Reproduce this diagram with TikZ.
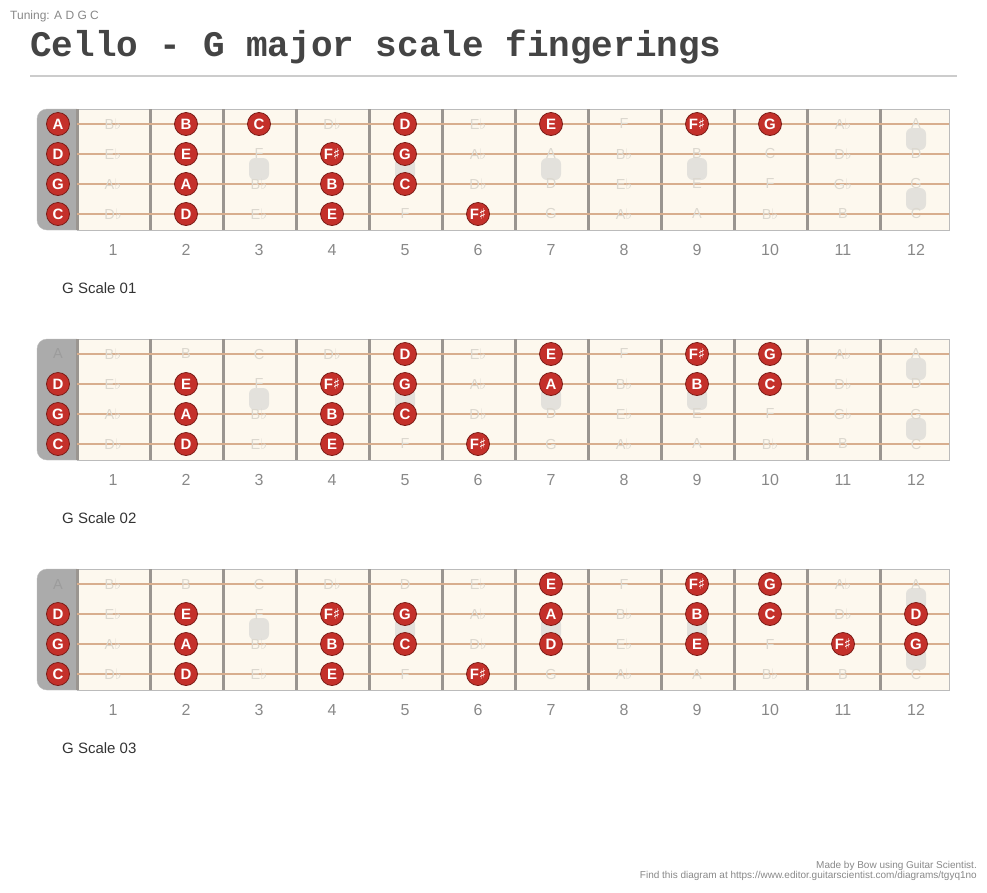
\documentclass[tikz,border=0pt]{standalone}
\usepackage{fontspec}
\setmainfont{Liberation Sans}
\newfontfamily\titlefont{Liberation Mono}
\newfontfamily\accfont{DejaVu Sans}
\usetikzlibrary{positioning}

\definecolor{boardbg}{HTML}{FDF8EE}
\definecolor{nutgray}{HTML}{ABABAB}
\definecolor{edgegray}{HTML}{BBBBBB}
\definecolor{fretgray}{HTML}{9A9590}
\definecolor{stringtan}{HTML}{D8AE8E}
\definecolor{inlaygray}{HTML}{E3E1DC}
\definecolor{fadedtext}{HTML}{DCD8CF}
\definecolor{opentext}{HTML}{9C9C9C}
\definecolor{notered}{HTML}{C4302A}
\definecolor{notedark}{HTML}{7A1B16}
\definecolor{labelgray}{HTML}{888888}
\definecolor{titlegray}{HTML}{444444}
\definecolor{rulegray}{HTML}{CCCCCC}

\newcommand{\fl}{{\accfont\char"266D}}
\newcommand{\sh}{{\accfont\char"266F}}
\newcommand{\notename}[1]{\ifcase#1 C\or D\fl\or D\or E\fl\or E\or F\or G\fl\or G\or A\fl\or A\or B\fl\or B\fi}

\tikzset{
    faded/.style={text=fadedtext, inner sep=0pt, font=\fontsize{14.5}{14.5}\selectfont},
    note/.style={circle, fill=notered, draw=notedark, line width=0.8pt, minimum size=23pt, inner sep=0pt, text=white, font=\fontsize{15}{15}\selectfont\bfseries},
    fretnum/.style={text=labelgray, font=\fontsize{16}{16}\selectfont},
    inlay/.style={fill=inlaygray, rounded corners=6pt},
}
\tikzset{
    board/.pic={
        \fill[nutgray, rounded corners=10pt] (0,0) rectangle (60,121);
        \fill[boardbg] (40,0) rectangle (912,121);
        \draw[edgegray] (40,0) -- (912,0) -- (912,121) -- (40,121);
        \draw[edgegray, rounded corners=10pt] (40,0) -- (0,0) -- (0,121) -- (40,121);
        % inlays
        \foreach \f in {3,5,7,9} \fill[inlay] (-7+73*\f,49) rectangle (13+73*\f,71);
        \fill[inlay] (869,19) rectangle (889,41);
        \fill[inlay] (869,79) rectangle (889,101);
        % nut, frets, strings
        \draw[fretgray, line width=3pt] (40,0) -- (40,121);
        \foreach \k in {1,...,11} \draw[fretgray, line width=3pt] (40+73*\k,0) -- (40+73*\k,121);
        \foreach \s in {1,...,4} \draw[stringtan, line width=2pt] (40,-15+30*\s) -- (912,-15+30*\s);
        % note names
        \foreach \s/\o in {1/9,2/2,3/7,4/0} {
            \node[faded, text=opentext] (-n\s-0) at (21,-15+30*\s) {\notename{\o}};
            \foreach \f in {1,...,12} {
                \pgfmathtruncatemacro\idx{mod(\o+\f,12)}
                \node[faded] (-n\s-\f) at (3+73*\f,-15+30*\s) {\notename{\idx}};
            }
        }
        \foreach \f in {1,...,12} \node[fretnum] (-f\f) at (3+73*\f,141) {\f};
        \node[anchor=west, inner sep=0pt, text=black!80, font=\fontsize{15}{15}\selectfont] (-label) at (25,179) {#1};
    }
}

\begin{document}
\begin{tikzpicture}[x=1pt, y=-1pt]
    \useasboundingbox (0,0) rectangle (987,892);
    \node[anchor=west, inner sep=0pt, text=labelgray, font=\fontsize{12}{12}\selectfont] (tuning) at (10,16) {Tuning: A D G C};
    \node[anchor=west, inner sep=0pt, text=titlegray, font=\titlefont\bfseries\fontsize{36}{36}\selectfont] (title) at (30,47) {Cello - G major scale fingerings};
    \draw[rulegray, line width=2pt] (30,76) -- (957,76);

    \pic (b1) at (37,109) {board={G Scale 01}};
    \pic (b2) at (37,339) {board={G Scale 02}};
    \pic (b3) at (37,569) {board={G Scale 03}};

    \foreach \s/\f/\t in {1/0/A,1/2/B,1/3/C,1/5/D,1/7/E,1/9/F\sh,1/10/G,
                          2/0/D,2/2/E,2/4/F\sh,2/5/G,
                          3/0/G,3/2/A,3/4/B,3/5/C,
                          4/0/C,4/2/D,4/4/E,4/6/F\sh}
        \node[note] (r1-\s-\f) at (b1-n\s-\f) {\t};
    \foreach \s/\f/\t in {1/5/D,1/7/E,1/9/F\sh,1/10/G,
                          2/0/D,2/2/E,2/4/F\sh,2/5/G,2/7/A,2/9/B,2/10/C,
                          3/0/G,3/2/A,3/4/B,3/5/C,
                          4/0/C,4/2/D,4/4/E,4/6/F\sh}
        \node[note] (r2-\s-\f) at (b2-n\s-\f) {\t};
    \foreach \s/\f/\t in {1/7/E,1/9/F\sh,1/10/G,
                          2/0/D,2/2/E,2/4/F\sh,2/5/G,2/7/A,2/9/B,2/10/C,2/12/D,
                          3/0/G,3/2/A,3/4/B,3/5/C,3/7/D,3/9/E,3/11/F\sh,3/12/G,
                          4/0/C,4/2/D,4/4/E,4/6/F\sh}
        \node[note] (r3-\s-\f) at (b3-n\s-\f) {\t};

    \node[anchor=east, inner sep=0pt, text=labelgray, font=\fontsize{10}{10}\selectfont] (credit) at (977,866) {Made by Bow using Guitar Scientist.};
    \node[anchor=east, inner sep=0pt, text=labelgray, font=\fontsize{10}{10}\selectfont] (link) at (977,876) {Find this diagram at https://www.editor.guitarscientist.com/diagrams/tgyq1no};
\end{tikzpicture}
\end{document}
